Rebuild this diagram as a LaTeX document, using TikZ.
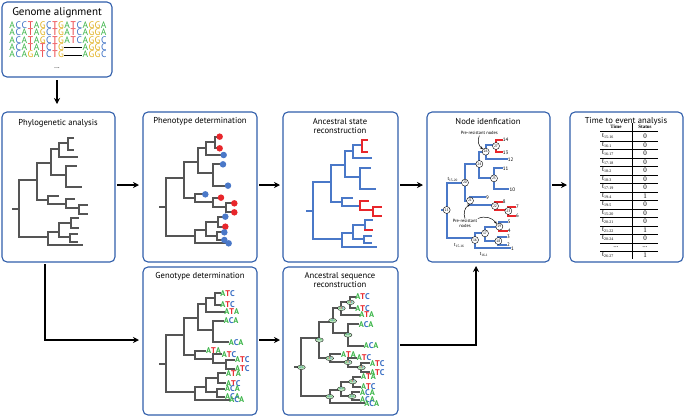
\documentclass[tikz,border=0pt]{standalone}
\usepackage{fontspec}
\setmainfont{PT Sans}
\newfontfamily\tabfont{Liberation Serif}
\usetikzlibrary{arrows.meta,shapes.geometric}
\definecolor{boxblue}{HTML}{2F5DAA}
\definecolor{brgray}{HTML}{555555}
\definecolor{brblue}{HTML}{4A78C8}
\definecolor{brred}{HTML}{E8262B}
\definecolor{sA}{HTML}{3DB54A}
\definecolor{sC}{HTML}{3A6FC4}
\definecolor{sG}{HTML}{E0B020}
\definecolor{sT}{HTML}{E8262B}
\newcommand\myletter[1]{\makebox[6.1pt]{\ifx#1A\textcolor{sA}{A}\else\ifx#1C\textcolor{sC}{C}\else\ifx#1G\textcolor{sG}{G}\else\ifx#1T\textcolor{sT}{T}\else\rule[2.6pt]{6.1pt}{0.7pt}\fi\fi\fi\fi}}
\newcommand\myseq[1]{\expandafter\myseqi#1\relax}
\def\myseqi#1{\ifx#1\relax\else\myletter{#1}\expandafter\myseqi\fi}
\newcommand\gtxt[1]{{\bfseries\expandafter\myseqbi#1\relax}}
\def\myseqbi#1{\ifx#1\relax\else\ifx#1A\textcolor{sA}{A}\else\ifx#1C\textcolor{sC}{C}\else\textcolor{sT}{T}\fi\fi\expandafter\myseqbi\fi}
% tree: #1 main colour, #2 red-clade colour
\newcommand\phylotree[2]{
 \draw[#1] (40,297)--(58,297) (58,210)--(58,382)
  (58,210)--(112,210) (112,160)--(112,270)
  (112,160)--(152,160) (152,118)--(152,195)
  (152,118)--(178,118) (178,100)--(178,140)
  (178,100)--(205,100) (178,140)--(230,140)
  (152,195)--(198,195) (198,168)--(198,232) (198,168)--(228,168) (198,232)--(243,232)
  (112,270)--(143,270) (143,258)--(143,282) (143,258)--(175,258) (143,282)--(198,282)
  (58,382)--(143,382) (143,365)--(143,405) (143,365)--(178,365) (178,340)--(178,382)
  (178,340)--(212,340) (212,325)--(212,355) (212,325)--(235,325)
  (178,382)--(210,382) (210,372)--(210,395) (210,372)--(232,372) (210,395)--(232,395)
  (143,405)--(245,405);
 \draw[#2] (205,85)--(205,120) (205,85)--(218,85) (205,120)--(218,120)
  (198,268)--(198,295) (198,268)--(222,268) (198,295)--(238,295)
  (238,285)--(238,312) (238,285)--(262,285) (238,312)--(262,312)
  (212,355)--(235,355);
}
\tikzset{
 panel/.style={draw=boxblue,line width=1.1pt,rounded corners=5pt},
 ttl/.style={font=\fontsize{8.6}{9.5}\selectfont,align=center,inner sep=0pt},
 arr/.style={line width=1.5pt,-{Stealth[length=6pt,width=6pt]}},
 br/.style={line width=1.7pt,line cap=rect},
 dot/.style={circle,inner sep=0pt,minimum size=6.5pt},
 nnode/.style={circle,draw,fill=white,line width=0.4pt,inner sep=0pt,minimum size=7pt,font=\fontsize{3.6}{4}\selectfont},
 anode/.style={ellipse,draw,fill=sA!35,line width=0.3pt,inner sep=0.3pt,minimum height=4.5pt,minimum width=8pt,font=\fontsize{2.6}{3}\selectfont\bfseries},
 leaf/.style={anchor=west,inner sep=0.6pt,font=\fontsize{8.3}{9}\selectfont},
 nlab/.style={anchor=west,inner sep=1pt,font=\fontsize{5}{6}\selectfont},
 tlab/.style={font=\tabfont\fontsize{7}{8}\selectfont,inner sep=0pt},
 tsub/.style={font=\tabfont\fontsize{5.5}{6}\selectfont,inner sep=0pt}
}
\begin{document}
\begin{tikzpicture}[x=1pt,y=-1pt]
\useasboundingbox (0,0) rectangle (685,418);
% panels
\draw[panel] (2,2) rectangle (112,77);
\draw[panel] (2,112) rectangle (115,262);
\draw[panel] (143,112) rectangle (257,262);
\draw[panel] (283,112) rectangle (398,262);
\draw[panel] (427,112) rectangle (550,262);
\draw[panel] (570,112) rectangle (683,262);
\draw[panel] (143,267) rectangle (257,415);
\draw[panel] (283,267) rectangle (398,415);
% titles
\node[ttl,font=\fontsize{11}{12}\selectfont] (tga) at (57,13) {Genome alignment};
\node[ttl] (tph) at (58,123) {Phylogenetic analysis};
\node[ttl] (tpd) at (200,121) {Phenotype determination};
\node[ttl] (tas) at (340,126) {Ancestral state\\reconstruction};
\node[ttl] (tni) at (488,121) {Node idenfication};
\node[ttl] (tte) at (626,121) {Time to event analysis};
\node[ttl] (tgd) at (200,276) {Genotype determination};
\node[ttl] (tsq) at (340,280) {Ancestral sequence\\reconstruction};
% alignment
\foreach \s [count=\i] in {ACCTAGCTGATCAGGA,ACATAGCTGATCAGGA,ACATAGCTGATCAGGC,ACATATCTG---AGGC,ACAGATCTG---AGGC}
 \node[anchor=west,inner sep=0pt,font=\fontsize{9.5}{9.5}\selectfont] (al\i) at (9,{17.5+\i*7.4}) {\myseq{\s}};
\node[inner sep=0pt,font=\fontsize{7}{7}\selectfont] (aldots) at (57,68) {...};
% trees
\begin{scope}[scale=1/3,shift={(0,330)}]
 \phylotree{br,brgray}{br,brgray}
\end{scope}
\begin{scope}[scale=1/3,shift={(441,325)}]
 \phylotree{br,brgray}{br,brgray}
 \foreach \p/\c in {{(218,85)}/brred,{(218,120)}/brred,{(230,140)}/brblue,{(228,168)}/brblue,{(243,232)}/brblue,{(175,258)}/brblue,{(222,268)}/brred,{(262,285)}/brred,{(262,312)}/brred,{(235,325)}/brblue,{(235,355)}/brred,{(232,372)}/brblue,{(232,395)}/brblue,{(245,405)}/brblue}
  \node[dot,fill=\c] at \p {};
\end{scope}
\begin{scope}[scale=1/3,shift={(882,335)}]
 \phylotree{br,brblue}{br,brred}
\end{scope}
\begin{scope}[scale=1/3,shift={(441,795)}]
 \phylotree{br,brgray}{br,brgray}
 \foreach \p/\s in {{(218,85)}/ATC,{(218,120)}/ATC,{(230,140)}/ATA,{(228,168)}/ACA,{(243,232)}/ACA,{(175,258)}/ATA,{(222,268)}/ATC,{(262,285)}/ATC,{(262,312)}/ATC,{(235,325)}/ATA,{(235,355)}/ATC,{(232,372)}/ACA,{(232,395)}/ACA,{(245,405)}/ACA}
  \node[leaf] at \p {\gtxt{\s}};
\end{scope}
\begin{scope}[scale=1/3,shift={(846,805)}]
 \phylotree{br,brgray}{br,brgray}
 \foreach \p/\s in {{(218,85)}/ATC,{(218,120)}/ATC,{(230,140)}/ATA,{(228,168)}/ACA,{(243,232)}/ACA,{(175,258)}/ATA,{(222,268)}/ATC,{(262,285)}/ATC,{(262,312)}/ATC,{(235,325)}/ATA,{(235,355)}/ATC,{(232,372)}/ACA,{(232,395)}/ACA,{(245,405)}/ACA}
  \node[leaf] at \p {\gtxt{\s}};
 \foreach \p/\s in {{(58,297)}/ACA,{(112,215)}/ACA,{(152,157)}/ACA,{(178,120)}/ATC,{(205,102)}/ATC,{(198,200)}/ACA,{(143,270)}/ATC,{(198,282)}/ATC,{(238,298)}/ATC,{(143,385)}/ACA,{(178,362)}/ACA,{(212,340)}/ATC,{(210,384)}/ACA}
  \node[anode] at \p {\gtxt{\s}};
\end{scope}
% node identification tree
\begin{scope}[scale=1/3,shift={(1260,330)}]
 \draw[br,brblue] (65,300)--(80,300) (80,218)--(80,385)
  (80,218)--(135,218) (135,162)--(135,272)
  (135,162)--(178,162) (178,125)--(178,205)
  (178,125)--(197,125) (197,105)--(197,148)
  (197,105)--(228,105) (197,148)--(260,148)
  (178,205)--(222,205) (222,175)--(222,238) (222,175)--(245,175) (222,238)--(265,238)
  (135,272)--(150,272) (150,262)--(150,285) (150,262)--(195,262) (150,285)--(225,285)
  (80,385)--(165,385) (165,370)--(165,415) (165,370)--(195,370) (195,350)--(195,393)
  (195,350)--(238,350) (238,335)--(238,350) (238,335)--(260,335)
  (195,393)--(235,393) (235,380)--(235,405) (235,380)--(258,380) (235,405)--(258,405)
  (165,415)--(270,415);
 \draw[br,brred] (228,90)--(228,127) (228,90)--(245,90) (228,127)--(245,127)
  (225,275)--(225,300) (225,275)--(245,275) (225,300)--(265,300)
  (265,290)--(265,318) (265,290)--(285,290) (265,318)--(285,318)
  (238,350)--(238,362) (238,362)--(260,362);
 \foreach \p/\n in {{(245,90)}/14,{(245,127)}/13,{(260,148)}/12,{(245,175)}/11,{(265,238)}/10,{(195,262)}/9,{(245,275)}/8,{(285,290)}/7,{(285,318)}/6,{(260,335)}/5,{(260,362)}/4,{(258,380)}/3,{(258,405)}/2,{(270,415)}/1}
  \node[nlab] at \p {\n};
 \foreach \p/\n in {{(80,300)}/15,{(135,218)}/20,{(178,162)}/24,{(197,125)}/26,{(228,108)}/27,{(222,205)}/25,{(150,272)}/21,{(225,288)}/22,{(265,303)}/23,{(165,390)}/16,{(195,370)}/17,{(238,350)}/19,{(235,393)}/18}
  \node[nnode] (n\n) at \p {\n};
 \node[tsub] (t1) at (98,208) {t\textsubscript{\fontsize{3.5}{4}\selectfont 15-20}};
 \node[tsub] (t2) at (118,405) {t\textsubscript{\fontsize{3.5}{4}\selectfont 15-16}};
 \node[tsub] (t3) at (192,432) {t\textsubscript{\fontsize{3.5}{4}\selectfont 16-1}};
 \node[font=\fontsize{4.5}{5}\selectfont,inner sep=0.5pt] (pr1) at (178,70) {Pre-resistant nodes};
 \node[font=\fontsize{4.5}{5}\selectfont,inner sep=0.5pt,align=center] (pr2) at (135,340) {Pre-resistant\\nodes};
 \draw[line width=0.5pt,-{Stealth[length=3pt]}] (pr1.south) to[bend right=40] (n26.north west);
 \draw[line width=0.5pt,-{Stealth[length=3pt]}] (pr2.north) to[bend left=40] (n21.south);
 \draw[line width=0.5pt,-{Stealth[length=3pt]}] (pr2.north east) to[bend left=40] (n19.north west);
\end{scope}
% table
\node[tlab,font=\tabfont\fontsize{5}{6}\selectfont\bfseries] (hT) at (616,127) {Time};
\node[tlab,font=\tabfont\fontsize{5}{6}\selectfont\bfseries] (hS) at (645,127) {Status};
\draw[line width=0.4pt] (600,131)--(658,131);
\draw[line width=0.5pt] (632,123)--(632,259);
\foreach \t/\s [count=\i] in {15-16/0,16-1/0,16-17/0,17-18/0,18-2/0,18-3/0,17-19/0,19-4/1,19-5/0,15-20/0,20-21/0,21-22/1,20-24/0}{
 \node[tlab,anchor=west] at (602,{128+\i*8.5}) {t\textsubscript{\fontsize{4}{4}\selectfont\t}};
 \node[tlab] at (645,{128+\i*8.5}) {\s};
 \draw[line width=0.3pt] (600,{132.5+\i*8.5})--(658,{132.5+\i*8.5});
}
\node[tlab] (dd1) at (616,247) {...};
\node[tlab] (dd2) at (645,247) {...};
\draw[line width=0.3pt] (600,251)--(658,251);
\node[tlab,anchor=west] (lastt) at (602,255.5) {t\textsubscript{\fontsize{4}{4}\selectfont 26-27}};
\node[tlab] (lasts) at (645,255.5) {1};
% arrows
\coordinate (a0) at (57,80); \coordinate (a1) at (57,104);
\draw[arr] (a0)--(a1);
\draw[arr] (117,185)--(139,185);
\draw[arr] (259,185)--(280,185);
\draw[arr] (400,185)--(423,185);
\draw[arr] (552,185)--(567,185);
\draw[arr] (45,264)--(45,340)--(139,340);
\draw[arr] (259,340)--(280,340);
\draw[arr] (400,345)--(476,345)--(476,266);
\end{tikzpicture}
\end{document}
